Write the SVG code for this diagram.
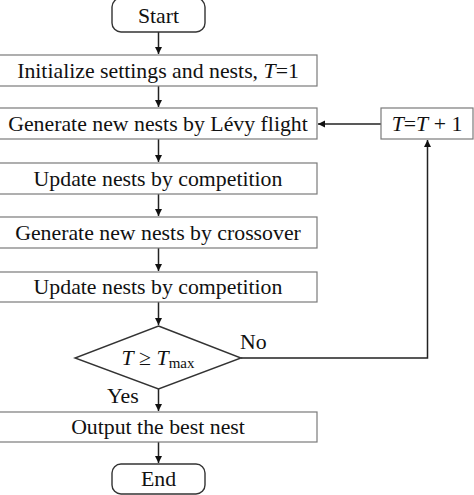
<svg xmlns="http://www.w3.org/2000/svg" width="474" height="495" viewBox="0 0 474 495">
<style>
  .box { fill: #fff; stroke: #7a7a7a; stroke-width: 1.2; }
  .term { fill: #fff; stroke: #333; stroke-width: 1.4; }
  text { font-family: 'Liberation Serif', 'Times New Roman', serif; font-size: 21.8px; fill: #111; }
  .t { text-anchor: middle; }
  .line { fill: none; stroke: #222; stroke-width: 1.5; }
</style>
<defs>
  <marker id="ah" markerWidth="8" markerHeight="8" refX="7" refY="4" orient="auto" markerUnits="userSpaceOnUse">
    <path d="M0,0.5 L7,4 L0,7.5 Z" fill="#111"/>
  </marker>
</defs>
<rect width="474" height="495" fill="#fff"/>
<g id="connectors">
  <line class="line" x1="158.5" y1="32" x2="158.5" y2="54" marker-end="url(#ah)"/>
  <line class="line" x1="158.5" y1="86" x2="158.5" y2="107" marker-end="url(#ah)"/>
  <line class="line" x1="158.5" y1="139" x2="158.5" y2="162" marker-end="url(#ah)"/>
  <line class="line" x1="158.5" y1="194" x2="158.5" y2="216" marker-end="url(#ah)"/>
  <line class="line" x1="158.5" y1="248" x2="158.5" y2="271" marker-end="url(#ah)"/>
  <line class="line" x1="158.5" y1="302" x2="158.5" y2="325" marker-end="url(#ah)"/>
  <line class="line" x1="158.5" y1="389" x2="158.5" y2="411" marker-end="url(#ah)"/>
  <line class="line" x1="158.5" y1="442" x2="158.5" y2="463" marker-end="url(#ah)"/>
  <polyline class="line" points="241,358 427.5,358 427.5,140" marker-end="url(#ah)"/>
  <line class="line" x1="381" y1="124" x2="318" y2="124" marker-end="url(#ah)"/>
  <text x="240" y="349">No</text>
  <text x="107" y="403">Yes</text>
</g>
<g id="start">
  <rect class="term" x="112" y="-2" width="93" height="34" rx="9"/>
  <text class="t" x="158.5" y="23">Start</text>
</g>
<g id="init">
  <rect class="box" x="-1" y="55" width="318" height="31"/>
  <text class="t" x="158" y="78">Initialize settings and nests, <tspan font-style="italic">T</tspan>=1</text>
</g>
<g id="levy">
  <rect class="box" x="-1" y="108" width="318" height="31"/>
  <text class="t" x="158" y="131">Generate new nests by Lévy flight</text>
</g>
<g id="inc">
  <rect class="box" x="381" y="108" width="92" height="31"/>
  <text class="t" x="427" y="131"><tspan font-style="italic">T</tspan>=<tspan font-style="italic">T</tspan> + 1</text>
</g>
<g id="update1">
  <rect class="box" x="-1" y="163" width="318" height="31"/>
  <text class="t" x="158" y="186">Update nests by competition</text>
</g>
<g id="crossover">
  <rect class="box" x="-1" y="217" width="318" height="31"/>
  <text class="t" x="158" y="240">Generate new nests by crossover</text>
</g>
<g id="update2">
  <rect class="box" x="-1" y="272" width="318" height="30"/>
  <text class="t" x="158" y="294">Update nests by competition</text>
</g>
<g id="decision">
  <polygon class="term" points="158.5,326 241,358 158.5,389 75,358"/>
  <text class="t" x="158" y="365"><tspan font-style="italic">T</tspan> ≥ <tspan font-style="italic">T</tspan><tspan font-size="15" dy="3">max</tspan></text>
</g>
<g id="output">
  <rect class="box" x="-1" y="412" width="318" height="30"/>
  <text class="t" x="158" y="434">Output the best nest</text>
</g>
<g id="end">
  <rect class="term" x="112" y="464" width="93" height="30" rx="9"/>
  <text class="t" x="158.5" y="486">End</text>
</g>
</svg>
